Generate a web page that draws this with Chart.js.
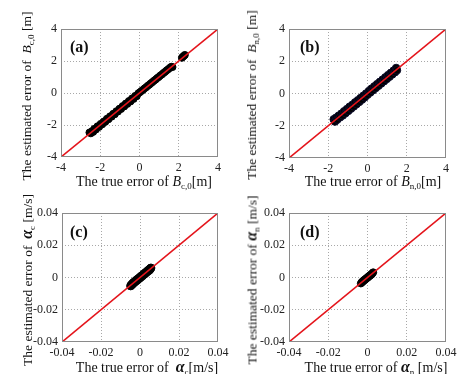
<!DOCTYPE html>
<html>
<head>
<meta charset="utf-8">
<script src="https://cdn.jsdelivr.net/npm/chart.js@4.4.0/dist/chart.umd.min.js"></script>
<style>
  html, body { margin: 0; padding: 0; background: #fff; }
  #wrap { position: relative; width: 474px; height: 374px; background: #fff; overflow: hidden; }
  canvas { position: absolute; }
  .t { position: absolute; font-family: "Liberation Serif", "Times New Roman", serif; font-size: 14px; color: #111; white-space: nowrap; line-height: 16px; transform: translate(-50%, -50%); }
  .ty { transform: translate(-50%, -50%) rotate(-90deg); font-size: 13.5px; }
  .t sub { font-size: 9px; vertical-align: -3px; line-height: 0; }
  .t b i { font-size: 16px; }
  .pl { position: absolute; font-family: "Liberation Serif", "Times New Roman", serif; font-size: 16px; font-weight: bold; color: #111; line-height: 18px; }
</style>
</head>
<body>
<div id="wrap">
  <canvas id="ca" width="237" height="190" style="left:0;top:0"></canvas>
  <canvas id="cb" width="237" height="190" style="left:237px;top:0"></canvas>
  <canvas id="cc" width="237" height="187" style="left:0;top:187px"></canvas>
  <canvas id="cd" width="237" height="187" style="left:237px;top:187px"></canvas>

  <div class="pl" style="left:70px;top:38px">(a)</div>
  <div class="pl" style="left:300px;top:38px">(b)</div>
  <div class="pl" style="left:70px;top:223px">(c)</div>
  <div class="pl" style="left:300px;top:223px">(d)</div>

  <div class="t" style="left:144px;top:182px">The true error of <i>B</i><sub>c,0</sub>[m]</div>
  <div class="t ty" style="left:27px;top:96px">The estimated error of&nbsp; <i>B</i><sub>c,0</sub> [m]</div>
  <div class="t" style="left:373px;top:182px">The true error of <i>B</i><sub>n,0</sub>[m]</div>
  <div class="t ty" style="left:252px;top:95px">The estimated error of&nbsp; <i>B</i><sub>n,0</sub> [m]</div>
  <div class="t" style="left:147px;top:367px">The true error of&nbsp; <b><i>α</i></b><sub>c</sub>[m/s]</div>
  <div class="t ty" style="left:27px;top:280px">The estimated error of&nbsp; <b><i>α</i></b><sub>c</sub> [m/s]</div>
  <div class="t" style="left:376px;top:367px">The true error of <b><i>α</i></b><sub>n</sub> [m/s]</div>
  <div class="t ty" style="left:252px;top:280px">The estimated error of <b><i>α</i></b><sub>n</sub> [m/s]</div>
</div>
<script>
// ---- tick values / labels ----
const bTickVals = [-4, -2, 0, 2, 4];
const bTickLabels = ['-4', '-2', '0', '2', '4'];
const alphaTickVals = [-0.04, -0.02, 0, 0.02, 0.04];
const alphaTickLabels = ['-0.04', '-0.02', '0', '0.02', '0.04'];

// ---- reference line y = x (end points) ----
const refLineB = [-4, 4];
const refLineAlpha = [-0.04, 0.04];

// ---- (a) B_c,0 : true vs estimated ----
const aTrue = [-2.55,-2.48,-2.42,-2.36,-2.3,-2.22,-2.14,-2.06,-1.98,-1.9,-1.82,-1.74,-1.66,-1.58,-1.5,-1.42,-1.34,-1.26,-1.18,-1.1,-1.02,-0.94,-0.86,-0.78,-0.7,-0.62,-0.54,-0.46,-0.38,-0.3,-0.22,-0.14,-0.06,0.02,0.1,0.18,0.26,0.34,0.42,0.5,0.58,0.66,0.74,0.82,0.9,0.98,1.06,1.14,1.22,1.3,1.38,1.46,1.54,1.62,1.68,2.16,2.21,2.26,2.31];
const aEst  = [-2.47,-2.52,-2.38,-2.43,-2.24,-2.28,-2.08,-2.12,-1.93,-1.96,-1.78,-1.8,-1.61,-1.64,-1.46,-1.48,-1.3,-1.33,-1.14,-1.16,-0.98,-1.0,-0.82,-0.84,-0.66,-0.68,-0.5,-0.53,-0.34,-0.37,-0.18,-0.2,-0.02,0.05,0.13,0.2,0.29,0.36,0.45,0.52,0.61,0.68,0.77,0.84,0.93,1.0,1.09,1.16,1.25,1.32,1.41,1.48,1.57,1.64,1.62,2.2,2.27,2.32,2.38];

// ---- (b) B_n,0 ----
const bTrue = [-1.72,-1.66,-1.6,-1.54,-1.47,-1.4,-1.33,-1.26,-1.19,-1.12,-1.05,-0.98,-0.91,-0.84,-0.77,-0.7,-0.63,-0.56,-0.49,-0.42,-0.35,-0.28,-0.21,-0.14,-0.07,0.0,0.07,0.14,0.21,0.28,0.35,0.42,0.49,0.56,0.63,0.7,0.77,0.84,0.91,0.98,1.05,1.12,1.19,1.26,1.33,1.4,1.46,1.5];
const bEst  = [-1.6,-1.74,-1.5,-1.62,-1.38,-1.48,-1.25,-1.36,-1.1,-1.22,-0.97,-1.08,-0.82,-0.94,-0.7,-0.8,-0.55,-0.66,-0.42,-0.52,-0.28,-0.38,-0.14,-0.24,0.0,-0.08,0.15,0.06,0.3,0.2,0.44,0.34,0.58,0.48,0.72,0.62,0.86,0.76,1.0,0.9,1.14,1.04,1.28,1.18,1.42,1.32,1.58,1.44];

// ---- (c) alpha_c [m/s] ----
const cTrue = [-0.0048,-0.0044,-0.004,-0.0036,-0.0031,-0.0027,-0.0022,-0.0018,-0.0013,-0.0009,-0.0004,0.0,0.0004,0.0009,0.0013,0.0018,0.0022,0.0027,0.0031,0.0036,0.004,0.0045,0.0049,0.0053,0.0056];
const cEst  = [-0.0052,-0.0045,-0.0043,-0.0034,-0.0033,-0.0025,-0.0024,-0.0016,-0.0015,-0.0007,-0.0006,0.0002,0.0002,0.0011,0.0011,0.002,0.002,0.0029,0.0029,0.0038,0.0038,0.0047,0.0047,0.0055,0.0059];

// ---- (d) alpha_n [m/s] ----
const dTrue = [-0.0034,-0.003,-0.0027,-0.0023,-0.002,-0.0016,-0.0013,-0.0009,-0.0006,-0.0002,0.0001,0.0005,0.0008,0.0012,0.0015,0.0019,0.0022,0.0026,0.0029];
const dEst  = [-0.0037,-0.0029,-0.003,-0.0021,-0.0022,-0.0014,-0.0015,-0.0007,-0.0008,0.0,-0.0001,0.0007,0.0006,0.0014,0.0013,0.0021,0.002,0.0028,0.0032];

const FONT = { family: 'Liberation Serif', size: 12 };

const framePlugin = {
  id: 'frame',
  afterDraw(chart) {
    const a = chart.chartArea, ctx = chart.ctx;
    ctx.save();
    ctx.strokeStyle = '#8a8a8a';
    ctx.lineWidth = 1;
    ctx.strokeRect(Math.round(a.left) + 0.5, Math.round(a.top) + 0.5, Math.round(a.right - a.left) - 1, Math.round(a.bottom - a.top) - 1);
    ctx.restore();
  }
};

function axis(vals, labels, fitFn) {
  return {
    type: 'linear',
    min: vals[0], max: vals[vals.length - 1],
    afterBuildTicks: s => { s.ticks = vals.map(v => ({ value: v })); },
    afterFit: fitFn,
    ticks: {
      autoSkip: false, maxRotation: 0, padding: 4,
      color: '#222', font: FONT,
      callback: (v) => { const i = vals.findIndex(t => Math.abs(t - v) < 1e-9); return i >= 0 ? labels[i] : ''; }
    },
    grid: {
      drawTicks: false, lineWidth: 1,
      color: ctx => (ctx.index === 0 || ctx.index === vals.length - 1) ? 'rgba(0,0,0,0)' : '#a8a8a8'
    },
    border: { display: false, dash: [1, 2] }
  };
}

function makeChart(id, xs, ys, vals, labels, line, g, r, ptColor) {
  const pts = xs.map((x, i) => ({ x: x, y: ys[i] }));
  const ln = line.map(v => ({ x: v, y: v }));
  new Chart(document.getElementById(id), {
    type: 'scatter',
    data: {
      datasets: [
        { data: ln, showLine: true, borderColor: '#e4141b', borderWidth: 1.6, pointRadius: 0, order: 0 },
        { data: pts, pointRadius: r, pointBackgroundColor: '#000', pointBorderColor: ptColor, pointBorderWidth: 1, order: 1 }
      ]
    },
    options: {
      responsive: false, animation: false, devicePixelRatio: 1,
      layout: { padding: { left: 0, top: g.top, right: g.right, bottom: 0 } },
      plugins: { legend: { display: false }, tooltip: { enabled: false } },
      scales: {
        x: axis(vals, labels, s => { s.height = g.xh; }),
        y: axis(vals, labels, s => { s.width = g.yw; })
      }
    },
    plugins: [framePlugin]
  });
}

makeChart('ca', aTrue, aEst, bTickVals, bTickLabels, refLineB, { top: 29, right: 19, xh: 33, yw: 61 }, 3.5, '#000');
makeChart('cb', bTrue, bEst, bTickVals, bTickLabels, refLineB, { top: 29, right: 28, xh: 32, yw: 52 }, 3.8, '#0b0b2a');
makeChart('cc', cTrue, cEst, alphaTickVals, alphaTickLabels, refLineAlpha, { top: 26, right: 19, xh: 32, yw: 62 }, 4, '#000');
makeChart('cd', dTrue, dEst, alphaTickVals, alphaTickLabels, refLineAlpha, { top: 26, right: 28, xh: 32, yw: 52 }, 3.5, '#000');
</script>
</body>
</html>
